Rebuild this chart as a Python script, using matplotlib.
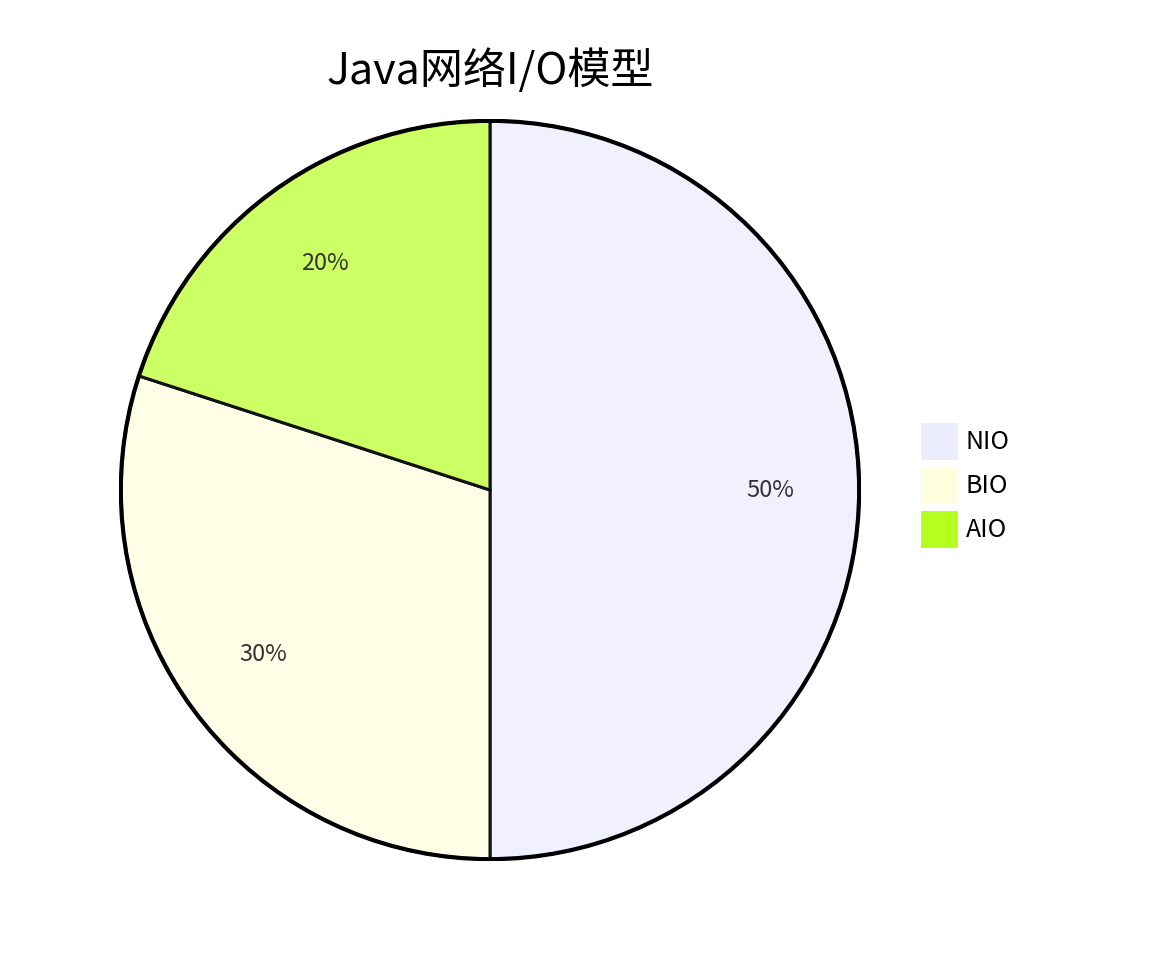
import matplotlib
matplotlib.use("Agg")
import matplotlib.pyplot as plt
from matplotlib.patches import Rectangle

plt.rcParams['font.family'] = ['Noto Sans CJK SC', 'DejaVu Sans']

labels = ["NIO", "BIO", "AIO"]
values = [50, 30, 20]
slice_colors = ["#F0F0FE", "#FFFFE8", "#CCFF63"]
legend_colors = ["#ECECFF", "#FFFFDE", "#B5FF20"]
title = "Java网络I/O模型"

W, H = 1158, 980
fig = plt.figure(figsize=(W/100, H/100), dpi=100)
cx, cy, r = 490, 490, 371
ax = fig.add_axes([(cx-r)/W, (H-cy-r)/H, 2*r/W, 2*r/H])
wedges, texts, autotexts = ax.pie(values, colors=slice_colors, startangle=90, counterclock=False,
       autopct='%1.0f%%', pctdistance=0.76,
       wedgeprops=dict(edgecolor="#111111", linewidth=2.2),
       textprops=dict(fontsize=17, color="#333333"))
ax.add_patch(plt.Circle((0, 0), 1.0, fill=False, edgecolor="#000000", linewidth=3))
ax.set_xlim(-1.005, 1.005); ax.set_ylim(-1.005, 1.005)
ax.set_aspect('equal'); ax.axis('off')

fig.text(cx/W, 1-72/H, title, ha='center', va='center', fontsize=31)

for i, (lab, c) in enumerate(zip(labels, legend_colors)):
    y = 423 + i*44
    fig.patches.append(Rectangle((921/W, 1-(y+37)/H), 37/W, 37/H, facecolor=c,
                                 edgecolor='none', transform=fig.transFigure))
    fig.text(966/W, 1-(y+19)/H, lab, ha='left', va='center', fontsize=18)

fig.savefig("out.png", dpi=100)
